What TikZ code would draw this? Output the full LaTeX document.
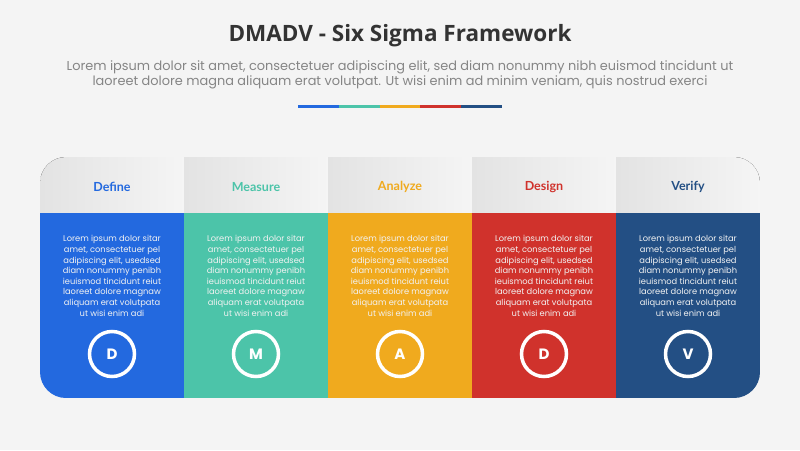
\documentclass[tikz,border=0pt]{standalone}
\usepackage{fontspec}
\setmainfont{Poppins}
\newfontfamily\titlefont{Open Sans}
\newfontfamily\headfont{Lato}
\usetikzlibrary{positioning}
\definecolor{bgcol}{HTML}{F4F4F4}
\definecolor{titlecol}{HTML}{333333}
\definecolor{subcol}{HTML}{858585}
\definecolor{cdefine}{HTML}{2369DF}
\definecolor{cmeasure}{HTML}{4CC4A9}
\definecolor{canalyze}{HTML}{F0AA1E}
\definecolor{cdesign}{HTML}{D0322C}
\definecolor{cverify}{HTML}{234F84}
\begin{document}
\begin{tikzpicture}[x=1pt,y=-1pt,
  headtext/.style={font=\headfont\bfseries\fontsize{12.5}{14}\selectfont},
  lorem/.style={text=white!90!gray, align=center, font=\fontsize{8.3}{10.6}\selectfont},
  letterring/.style={circle, draw=white, line width=3.5pt, minimum size=45pt, inner sep=0pt,
    text=white, font=\bfseries\fontsize{15}{17}\selectfont}]
\useasboundingbox[fill=bgcol] (0,0) rectangle (800,450);
\node[font=\titlefont\bfseries\fontsize{22.5}{26}\selectfont, text=titlecol] (title) at (400,36) {DMADV - Six Sigma Framework};
\node[font=\fontsize{12.9}{15.2}\selectfont, text=subcol, align=center] (subtitle) at (400,75)
  {Lorem ipsum dolor sit amet, consectetuer adipiscing elit, sed diam nonummy nibh euismod tincidunt ut\\
   laoreet dolore magna aliquam erat volutpat. Ut wisi enim ad minim veniam, quis nostrud exerci};
\foreach \col [count=\i] in {cdefine,cmeasure,canalyze,cdesign,cverify}
  \draw[\col, line width=3pt] ({298+40.8*(\i-1)},106) -- +(40.8,0);
\begin{scope}
  \clip[rounded corners=26pt] (40,157) rectangle (760,398);
  \foreach \col [count=\i] in {cdefine,cmeasure,canalyze,cdesign,cverify} {
    \fill[left color=black!11, right color=black!4] ({40+144*(\i-1)},157) rectangle +(144,56);
    \fill[\col] ({40+144*(\i-1)},213) rectangle +(144,185);
  }
\end{scope}
\foreach \name/\col/\letter [count=\i] in {Define/cdefine/D,Measure/cmeasure/M,Analyze/canalyze/A,Design/cdesign/D,Verify/cverify/V} {
  \node[headtext, text=\col] (head\i) at ({112+144*(\i-1)},187) {\name};
  \node[lorem, anchor=north] (text\i) at ({112+144*(\i-1)},232)
    {Lorem ipsum dolor sitar\\ amet, consectetuer pel\\ adipiscing elit, usedsed\\ diam nonummy penibh\\
     ieuismod tincidunt reiut\\ laoreet dolore magnaw\\ aliquam erat volutpata\\ ut wisi enim adi};
  \node[letterring] (letter\i) at ({112+144*(\i-1)},354) {\letter};
}
\end{tikzpicture}
\end{document}
